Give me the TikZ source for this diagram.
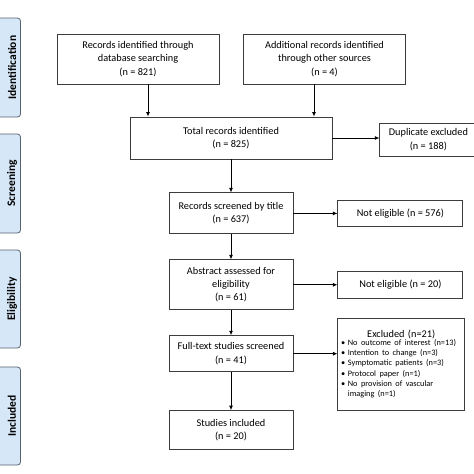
\documentclass[tikz,border=0pt]{standalone}
\usepackage{fontspec}
\setmainfont{Carlito}
\usetikzlibrary{arrows.meta,positioning}
\definecolor{stagefill}{RGB}{214,231,247}
\definecolor{stageline}{RGB}{88,98,112}
\definecolor{boxline}{RGB}{60,60,60}
\tikzset{%
  % Specifications for style of arrows:
   flow/.style={
           -{Latex[length=4.5pt,width=4pt]},
           line width=0.8pt,
           black},
  % Specifications for style of nodes:
   base/.style = {rectangle, draw=boxline, line width=0.9pt,
                  minimum width=124pt, minimum height=40pt,
                  text centered, align=center,
                  font=\fontsize{10.3}{13.3}\selectfont},
   source/.style = {base, minimum width=162pt, minimum height=50pt},
   total/.style = {base, minimum width=202pt, minimum height=42pt},
   reject/.style = {base, minimum width=125pt, minimum height=26pt},
   stagebox/.style = {draw=stageline, fill=stagefill, line width=0.8pt,
                  rounded corners=3pt},
   stagetext/.style = {rotate=90, font=\fontsize{11.5}{13}\selectfont\bfseries},
}
\begin{document}
\begin{tikzpicture}[x=1pt, y=1pt]
  \useasboundingbox (0,0) rectangle (474,-474);

  % Stage labels on the left
  \foreach \ya/\yb/\stagename in {18/117/Identification, 134/233/Screening,
                                  250/348/Eligibility, 367/465/Included}{
    \draw[stagebox] (-8,-\ya) rectangle (20.5,-\yb);
    \node (\stagename) [stagetext] at (12,{-(\ya+\yb)/2}) {\stagename};
  }

  % Specification of nodes (position, etc.)
  \node (db)	[source] at (138,-59)	{Records identified through\\database searching\\(n = 821)};
  \node (other)	[source] at (324.5,-59)	{Additional records identified\\through other sources\\(n = 4)};
  \node (total)	[total] at (231,-138)	{Total records identified\\(n = 825)};
  \node (dup)	[reject, minimum width=97pt, minimum height=33pt, right=47pt of total, yshift=-1.5pt]	{Duplicate excluded\\(n = 188)};

  \node (screened)	[base, minimum height=41pt, below=33pt of total]	{Records screened by title\\(n = 637)};
  \node (ne1)	[reject, right=44pt of screened]	{Not eligible (n = 576)};

  \node (abstract)	[base, minimum height=50pt, below=25pt of screened]	{Abstract assessed for\\eligibility\\(n = 61)};
  \node (ne2)	[reject, minimum height=27pt, right=44pt of abstract]	{Not eligible (n = 20)};

  \node (full)	[base, minimum height=36pt, below=25pt of abstract]	{Full-text studies screened\\(n = 41)};
  \node (excl)	[reject, minimum width=126pt, minimum height=92pt, text width=120pt,
                 align=left, right=44pt of full, yshift=-11pt]
     {\makebox[120pt]{Excluded (n=21)}\\[-1.5pt]
      {\fontsize{8.3}{10.3}\selectfont
       \begin{tabular}{@{}l@{\hspace{2.5pt}}l@{}}
       \textbullet & No outcome of interest (n=13)\\
       \textbullet & Intention to change (n=3)\\
       \textbullet & Symptomatic patients (n=3)\\
       \textbullet & Protocol paper (n=1)\\
       \textbullet & No provision of vascular\\
                   & imaging (n=1)
       \end{tabular}}};

  \node (included)	[base, minimum height=39pt, below=38pt of full]	{Studies included\\(n = 20)};

  % Connectors
  \draw[flow] ([xshift=10pt]db.south) -- ([xshift=10pt]db.south |- total.north);
  \draw[flow] ([xshift=-10.5pt]other.south) -- ([xshift=-10.5pt]other.south |- total.north);
  \draw[flow] (total.east) -- (total.east -| dup.west);
  \draw[flow] (total) -- (screened);
  \draw[flow] (screened) -- (ne1);
  \draw[flow] (screened) -- (abstract);
  \draw[flow] (abstract) -- (ne2);
  \draw[flow] (abstract) -- (full);
  \draw[flow] (full.east) -- (full.east -| excl.west);
  \draw[flow] (full) -- (included);
\end{tikzpicture}
\end{document}
